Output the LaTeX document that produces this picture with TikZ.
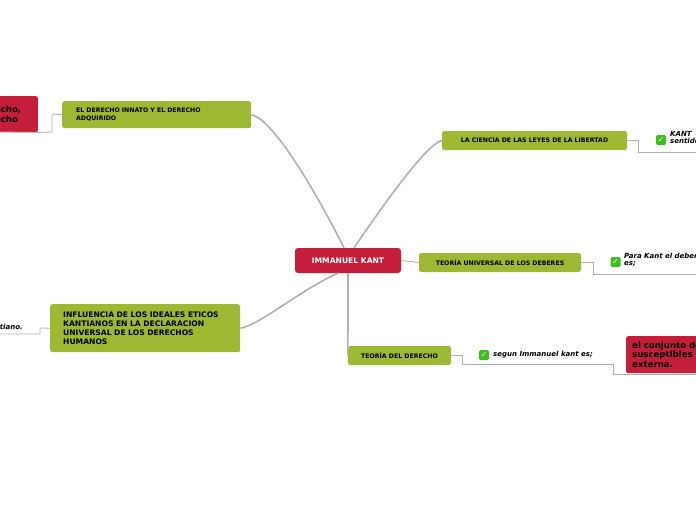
\documentclass[tikz,border=0pt]{standalone}
\usepackage{fontspec}
\setmainfont{DejaVu Sans}
\definecolor{kgreen}{HTML}{9DB832}
\definecolor{kred}{HTML}{C41E3A}
\definecolor{kline}{HTML}{B0B0B0}
\definecolor{kcheck}{HTML}{3FBF1F}
\begin{document}
\begin{tikzpicture}[x=1pt,y=-1pt,
  topic/.style={fill=kgreen,rounded corners=2.5pt,inner sep=0pt,font=\bfseries\fontsize{6.2}{7.4}\selectfont,align=left,text=black},
  rbox/.style={fill=kred,rounded corners=2pt,inner sep=0pt,font=\bfseries\fontsize{8.6}{9.6}\selectfont,align=left,text=black},
  note/.style={font=\bfseries\itshape\fontsize{7}{7.4}\selectfont,align=left,anchor=west,inner sep=0pt},
  chk/.style={fill=kcheck,rounded corners=1.5pt,minimum size=10pt,inner sep=0pt,text=white,font=\fontsize{8}{8}\selectfont},
  conn/.style={draw=kline,line width=0.8pt},
  main/.style={draw=kline,line width=1.6pt}]
\useasboundingbox (0,0) rectangle (696,520);
\clip (0,0) rectangle (696,520);
\fill[white] (0,0) rectangle (696,520);
% center
\node[fill=kred,rounded corners=3pt,minimum width=106pt,minimum height=25pt,text=white,font=\bfseries\fontsize{7.6}{8}\selectfont] (c) at (348,260.5) {IMMANUEL KANT};
% main topics
\node[topic,minimum width=189pt,minimum height=27pt,anchor=north west,text width=175pt] (a) at (62,101) {\hspace*{7pt}EL DERECHO INNATO Y EL DERECHO\\\hspace*{7pt}ADQUIRIDO};
\node[topic,minimum width=185pt,minimum height=19pt] (b) at (534.5,140.5) {LA CIENCIA DE LAS LEYES DE LA LIBERTAD};
\node[topic,minimum width=162pt,minimum height=19pt] (d) at (500,262.5) {TEORÍA UNIVERSAL DE LOS DEBERES};
\node[topic,minimum width=103pt,minimum height=19pt] (e) at (399.5,355.5) {TEORÍA DEL DERECHO};
\node[topic,minimum width=190pt,minimum height=48pt,anchor=north west,text width=178pt,font=\bfseries\fontsize{7.6}{9}\selectfont] (f) at (50,304) {\hspace*{7pt}INFLUENCIA DE LOS IDEALES ETICOS\\\hspace*{7pt}KANTIANOS EN LA DECLARACION\\\hspace*{7pt}UNIVERSAL DE LOS DERECHOS\\\hspace*{7pt}HUMANOS};
% main connectors
\draw[main] (c.north) ++(-4,0) coordinate (c1) .. controls (320,200) and (275,120) .. (a.east);
\draw[main] (c.north) ++(6,0) coordinate (c2) .. controls (380,210) and (425,145) .. (b.west);
\draw[conn] (c.east) -- (d.west);
\draw[main] (c.south) coordinate (c3) .. controls (348,300) and (348,340) .. (e.west);
\draw[main] (c.south) ++(-10,0) coordinate (c4) .. controls (300,290) and (260,325) .. (f.east);
% left red box
\node[rbox,minimum width=60pt,minimum height=36pt,anchor=north east,text width=56pt] (ar) at (38,96) {\hspace*{-1pt}derecho,\\\hspace*{-1pt}derecho};
\coordinate (aj) at (52,114);
\draw[conn] (a.west) -- (aj) -- (52,132) -- (ar.south east) -- (0,132);
% right checks
\node[chk] (bk) at (661,140) {✓};
\node[note,anchor=north west] (bt) at (670,131) {KANT\\sentido};
\draw[conn] (b.east) -- (638,140.5) -- (638,152) -- (696,152);
\node[chk] (dk) at (615.5,262) {✓};
\node[note,anchor=north west] (dt) at (624,253) {Para Kant el deber\\es;};
\draw[conn] (d.east) -- (593,262.5) -- (593,274) -- (696,274);
\node[chk] (ek) at (484,355) {✓};
\node[note] (et) at (493,355) {segun Immanuel kant es;};
\draw[conn] (e.east) -- (462,355.5) -- (462,364) -- (613,364) -- (613,374) -- (696,374);
\node[rbox,minimum width=90pt,minimum height=37pt,anchor=north west,text width=84pt] (er) at (626,336) {\hspace*{3pt}el conjunto de\\\hspace*{3pt}susceptibles\\\hspace*{3pt}externa.};
% left note
\node[note,anchor=east] (ft) at (23,327) {kantiano.};
\draw[conn] (f.west) -- (40,328) -- (40,334) -- (0,334);
\end{tikzpicture}
\end{document}
